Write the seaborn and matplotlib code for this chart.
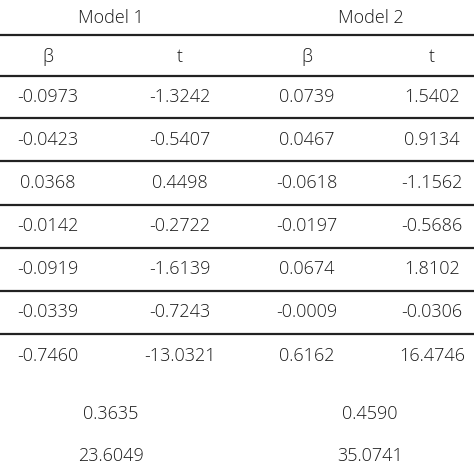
import matplotlib
matplotlib.use("Agg")
import matplotlib.pyplot as plt
import seaborn as sns

sns.set_theme(style="white")
plt.rcParams["font.family"] = ["Open Sans", "DejaVu Sans"]

models = ["Model 1", "Model 2"]
sub_headers = ["β", "t", "β", "t"]
beta1 = ["-0.0973", "-0.0423", "0.0368", "-0.0142", "-0.0919", "-0.0339", "-0.7460"]
t1 = ["-1.3242", "-0.5407", "0.4498", "-0.2722", "-1.6139", "-0.7243", "-13.0321"]
beta2 = ["0.0739", "0.0467", "-0.0618", "-0.0197", "0.0674", "-0.0009", "0.6162"]
t2 = ["1.5402", "0.9134", "-1.1562", "-0.5686", "1.8102", "-0.0306", "16.4746"]
r2 = ["0.3635", "0.4590"]
fstat = ["23.6049", "35.0741"]

fig = plt.figure(figsize=(4.74, 4.74), dpi=100)
ax = fig.add_axes([0, 0, 1, 1])
ax.set_xlim(0, 474)
ax.set_ylim(474, 0)
ax.axis("off")

fs = 13
kw = dict(ha="center", va="center", fontsize=fs, color="#1a1a1a", fontweight="light")
col_x = [48, 180, 307, 432]
model_x = [111, 371]
row_y = [97, 140, 183, 226, 269, 312, 356]
line_y = [35, 76, 118, 161, 205, 248, 291, 334]

for x, m in zip(model_x, models):
    ax.text(x, 18, m, **kw)
for x, h in zip(col_x, sub_headers):
    ax.text(x, 57, h, **kw)
for cx, col in zip(col_x, [beta1, t1, beta2, t2]):
    for y, v in zip(row_y, col):
        ax.text(cx, y, v, **kw)
for x, a, b in zip([111, 370], r2, fstat):
    ax.text(x, 414, a, **kw)
    ax.text(x, 456, b, **kw)

ax.hlines(line_y, 0, 474, colors="#222222", linewidth=1.6)

fig.savefig("out.png", dpi=100)
